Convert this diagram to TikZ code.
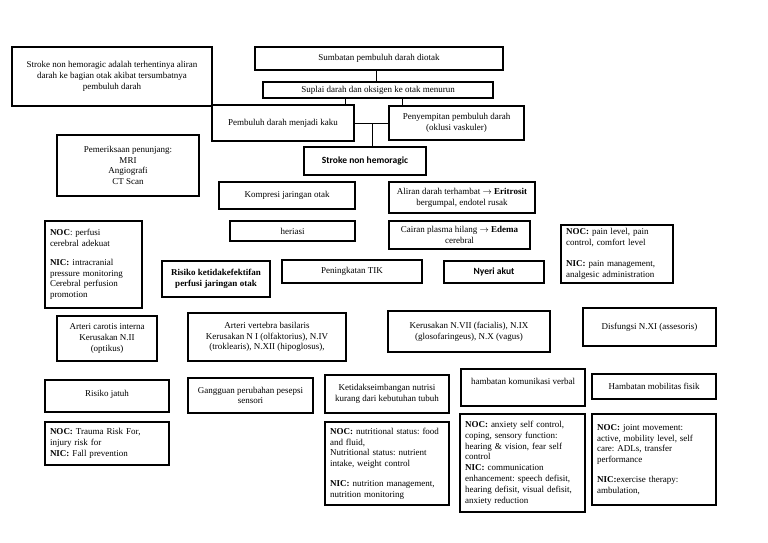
\documentclass[tikz,border=0pt]{standalone}
\usepackage{fontspec}
\usetikzlibrary{calc}
\setmainfont{Liberation Serif}
\newfontfamily\calibri{Carlito}
\frenchspacing
\begin{document}
\begin{tikzpicture}[x=1pt,y=-1pt,
  bx/.style={draw, line width=1.5pt, align=center, inner sep=3pt,
    font=\frenchspacing\fontsize{9}{10.8}\selectfont},
  nb/.style={bx, align=left, inner xsep=5pt},
  ln/.style={line width=0.8pt}]
\useasboundingbox (0,0) rectangle (768,543);

% top row
\node[bx, minimum width=200pt, minimum height=59pt] (def) at (112,76.5)
  {Stroke non hemoragic adalah terhentinya aliran\\ darah ke bagian otak akibat tersumbatnya\\ pembuluh darah};
\node[bx, minimum width=248pt, minimum height=23pt] (sumb) at (379,58.5) {Sumbatan pembuluh darah diotak};
\node[bx, minimum width=230pt, minimum height=16pt, inner ysep=1pt] (supl) at (378,90) {Suplai darah dan oksigen ke otak menurun};
\node[bx, minimum width=142pt, minimum height=36pt] (kaku) at (283,123) {Pembuluh darah menjadi kaku};
\node[bx, minimum width=135pt, minimum height=34pt] (peny) at (456.5,123) {Penyempitan pembuluh darah\\ (oklusi vaskuler)};
\node[bx, minimum width=122pt, minimum height=28pt, font=\calibri\bfseries\fontsize{9.5}{11}\selectfont] (stroke) at (365,161) {Stroke non hemoragic};
\node[bx, minimum width=142pt, minimum height=61pt] (pemer) at (128,165.5) {Pemeriksaan penunjang:\\ MRI\\ Angiografi\\ CT Scan};
\node[bx, minimum width=136pt, minimum height=27pt] (komp) at (287,195.5) {Kompresi jaringan otak};
\node[bx, minimum width=146pt, minimum height=31pt] (aliran) at (462,197.5) {Aliran darah terhambat $\rightarrow$ \textbf{Eritrosit}\\ bergumpal, endotel rusak};

% middle
\node[nb, minimum width=97pt, minimum height=87pt, text width=87pt] (nocperf) at (93.5,264.5)
  {\textbf{NOC}: perfusi\\ cerebral adekuat\\[8pt] \textbf{NIC:} intracranial\\ pressure monitoring\\ Cerebral perfusion\\ promotion};
\node[bx, minimum width=125pt, minimum height=20pt] (heriasi) at (292.5,231) {heriasi};
\node[bx, minimum width=141pt, minimum height=28pt] (cairan) at (459.5,235) {Cairan plasma hilang $\rightarrow$ \textbf{Edema}\\ cerebral};
\node[nb, minimum width=112pt, minimum height=58pt, text width=102pt] (nocpain) at (617,254)
  {\textbf{NOC:} pain level, pain\\ control, comfort level\\[10pt] \textbf{NIC:} pain management,\\ analgesic administration};
\node[bx, minimum width=108pt, minimum height=36pt, font=\bfseries\fontsize{9}{11}\selectfont] (risiko) at (216,279) {Risiko ketidakefektifan\\ perfusi jaringan otak};
\node[bx, minimum width=140pt, minimum height=23pt] (tik) at (352,271.5) {Peningkatan TIK};
\node[bx, minimum width=100pt, minimum height=22pt, font=\calibri\bfseries\fontsize{9.5}{11}\selectfont] (nyeri) at (494,272) {Nyeri akut};

\node[bx, minimum width=100pt, minimum height=45pt] (carotis) at (107,338.5) {Arteri carotis interna\\ Kerusakan N.II\\ (optikus)};
\node[bx, minimum width=158pt, minimum height=48pt] (vert) at (267,337) {Arteri vertebra basilaris\\ Kerusakan N I (olfaktorius), N.IV\\ (troklearis), N.XII (hipoglosus),};
\node[bx, minimum width=162pt, minimum height=41pt] (nvii) at (469,331.5) {Kerusakan N.VII (facialis), N.IX\\ (glosofaringeus), N.X (vagus)};
\node[bx, minimum width=133pt, minimum height=38pt] (disf) at (649.5,327) {Disfungsi N.XI (assesoris)};

% bottom
\node[bx, minimum width=124pt, minimum height=32pt, text depth=6pt] (jatuh) at (107,396) {Risiko jatuh};
\node[bx, minimum width=125pt, minimum height=35pt] (gang) at (250.5,395.5) {Gangguan perubahan pesepsi\\ sensori};
\node[nb, minimum width=124pt, minimum height=43pt, text width=114pt] (trauma) at (107,443.5)
  {\textbf{NOC:} Trauma Risk For,\\ injury risk for\\ \textbf{NIC:} Fall prevention};
\node[bx, minimum width=124pt, minimum height=38pt] (ketid) at (387,394) {Ketidakseimbangan nutrisi\\ kurang dari kebutuhan tubuh};
\node[nb, minimum width=124pt, minimum height=83pt, text width=114pt] (nutri) at (387,463.5)
  {\textbf{NOC:} nutritional status: food\\ and fluid,\\ Nutritional status: nutrient\\ intake, weight control\\[9pt] \textbf{NIC:} nutrition management,\\ nutrition monitoring};
\node[bx, minimum width=124pt, minimum height=37pt, text depth=12pt] (hamkom) at (523,387.5) {hambatan komunikasi verbal};
\node[nb, minimum width=125pt, minimum height=98pt, text width=115pt] (anx) at (522.5,463)
  {\textbf{NOC:} anxiety self control,\\ coping, sensory function:\\ hearing \& vision, fear self\\ control\\ \textbf{NIC:} communication\\ enhancement: speech defisit,\\ hearing defisit, visual defisit,\\ anxiety reduction};
\node[bx, minimum width=124pt, minimum height=25pt] (mob) at (654,386.5) {Hambatan mobilitas fisik};
\node[nb, minimum width=124pt, minimum height=91pt, text width=114pt] (joint) at (654,459.5)
  {\textbf{NOC:} joint movement:\\ active, mobility level, self\\ care: ADLs, transfer\\ performance\\[9pt] \textbf{NIC:}exercise therapy:\\ ambulation,};

% connectors
\draw[ln] ([xshift=-3pt]sumb.south) -- ([xshift=-3pt]sumb.south |- supl.north);
\draw[ln] ([xshift=-9pt]kaku.north east) -- ([xshift=-9pt]kaku.north east |- supl.south);
\draw[ln] ([xshift=14pt]peny.north west) -- ([xshift=14pt]peny.north west |- supl.south);
\draw[ln] (kaku.east) -- (peny.west);
\coordinate (j) at ($(kaku.east)!0.514!(peny.west)$);
\draw[ln] (j) -- (j |- stroke.north);
\end{tikzpicture}
\end{document}
